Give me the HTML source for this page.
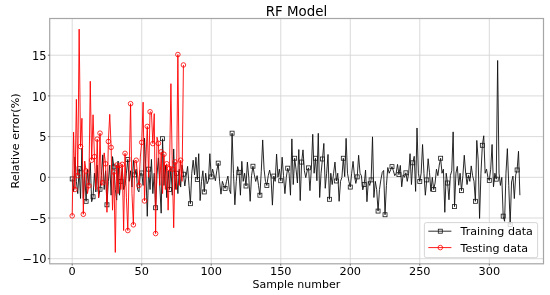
<!DOCTYPE html><html><head><meta charset="utf-8"><style>html,body{margin:0;padding:0;background:#fff;width:550px;height:295px;overflow:hidden}svg{display:block}text{font-family:"DejaVu Sans","Liberation Sans",sans-serif;fill:#000}</style></head><body>
<svg width="550" height="295" viewBox="0 0 550 295">
<rect width="550" height="295" fill="#fff"/>
<path d="M72.20 18.5V263.8M141.72 18.5V263.8M211.23 18.5V263.8M280.75 18.5V263.8M350.27 18.5V263.8M419.78 18.5V263.8M489.30 18.5V263.8M49.7 258.70H543.5M49.7 218.00H543.5M49.7 177.30H543.5M49.7 136.60H543.5M49.7 95.90H543.5M49.7 55.20H543.5" stroke="#d6d6d6" stroke-width="0.9" fill="none"/>
<g clip-path="url(#c)">
<clipPath id="c"><rect x="49.7" y="18.5" width="493.8" height="245.3"/></clipPath>
<polyline points="72.20,178.93 73.59,191.63 74.98,156.95 76.37,181.37 77.76,193.58 79.15,168.75 80.54,198.46 81.93,148.00 83.32,198.46 84.71,173.23 86.10,201.31 87.49,169.16 88.88,185.44 90.27,162.65 91.66,201.72 93.06,196.75 94.45,173.23 95.84,191.95 97.23,165.09 98.62,197.65 100.01,189.27 101.40,175.67 102.79,154.83 104.18,189.51 105.57,170.79 106.96,204.81 108.35,181.37 109.74,165.09 111.13,195.21 112.52,156.62 113.91,166.96 115.30,189.51 116.69,200.09 118.08,161.02 119.47,195.21 120.86,181.37 122.25,167.53 123.64,189.51 125.03,185.44 126.42,173.23 127.81,159.39 129.20,181.37 130.59,170.79 131.98,187.07 133.37,160.21 134.77,174.86 136.16,169.16 137.55,189.51 138.94,191.95 140.33,173.23 141.72,172.99 143.11,185.44 144.50,138.23 145.89,170.79 147.28,216.29 148.67,169.16 150.06,189.51 151.45,159.39 152.84,193.58 154.23,173.23 155.62,207.74 157.01,174.86 158.40,157.85 159.79,185.44 161.18,213.20 162.57,138.72 163.96,185.44 165.35,165.09 166.74,197.65 168.13,170.79 169.52,189.51 170.91,167.53 172.30,195.21 173.69,148.97 175.08,189.51 176.48,173.23 177.87,193.58 179.26,169.16 180.65,187.07 182.04,165.09 183.43,174.21 184.82,186.01 186.21,175.67 187.60,166.39 188.99,185.44 190.38,203.67 191.77,173.23 193.16,160.21 194.55,174.86 195.94,157.19 197.33,179.58 198.72,153.69 200.11,200.58 201.50,181.37 202.89,170.79 204.28,191.95 205.67,173.23 207.06,183.81 208.45,180.72 209.84,153.69 211.23,176.89 212.62,169.16 214.01,174.86 215.40,180.72 216.79,170.79 218.19,163.14 219.58,181.37 220.97,194.15 222.36,181.37 223.75,185.44 225.14,188.37 226.53,181.37 227.92,176.08 229.31,189.51 230.70,193.58 232.09,133.18 233.48,173.23 234.87,204.81 236.26,181.37 237.65,166.64 239.04,172.33 240.43,195.21 241.82,161.35 243.21,181.37 244.60,173.23 245.99,186.01 247.38,162.08 248.77,177.30 250.16,201.31 251.55,175.67 252.94,166.23 254.33,174.86 255.72,181.45 257.11,175.67 258.50,185.44 259.90,195.21 261.29,171.20 262.68,139.94 264.07,169.16 265.46,181.37 266.85,185.44 268.24,175.67 269.63,170.06 271.02,177.30 272.41,205.14 273.80,176.08 275.19,181.37 276.58,154.10 277.97,177.30 279.36,169.16 280.75,180.72 282.14,157.19 283.53,175.67 284.92,193.66 286.31,177.30 287.70,168.18 289.09,173.23 290.48,195.21 291.87,138.88 293.26,184.54 294.65,158.25 296.04,169.16 297.43,183.00 298.82,149.54 300.21,200.58 301.61,162.08 303.00,149.87 304.39,170.79 305.78,177.63 307.17,170.79 308.56,167.86 309.95,190.65 311.34,169.16 312.73,134.32 314.12,173.23 315.51,158.25 316.90,180.72 318.29,133.34 319.68,197.49 321.07,173.23 322.46,158.99 323.85,143.44 325.24,188.29 326.63,173.23 328.02,154.43 329.41,199.28 330.80,173.23 332.19,184.54 333.58,173.23 334.97,162.08 336.36,180.96 337.75,173.23 339.14,201.31 340.53,181.37 341.92,177.30 343.31,158.25 344.71,176.65 346.10,138.39 347.49,173.23 348.88,181.37 350.27,187.07 351.66,173.23 353.05,161.35 354.44,175.67 355.83,183.41 357.22,176.89 358.61,155.24 360.00,173.23 361.39,175.67 362.78,189.84 364.17,184.54 365.56,170.06 366.95,201.72 368.34,181.37 369.73,185.44 371.12,179.90 372.51,136.84 373.90,197.49 375.29,181.37 376.68,189.51 378.07,211.08 379.46,189.51 380.85,179.90 382.24,172.42 383.63,170.46 385.03,214.74 386.42,185.44 387.81,167.53 389.20,173.23 390.59,169.97 391.98,166.64 393.37,170.79 394.76,175.67 396.15,173.23 397.54,164.36 398.93,174.61 400.32,165.42 401.71,186.82 403.10,174.86 404.49,177.30 405.88,172.82 407.27,181.37 408.66,173.23 410.05,153.69 411.44,184.54 412.83,162.81 414.22,156.30 415.61,191.38 417.00,127.97 418.39,173.23 419.78,181.45 421.17,173.23 422.56,144.50 423.95,173.23 425.34,195.21 426.74,179.90 428.13,158.74 429.52,172.74 430.91,191.38 432.30,177.30 433.69,189.51 435.08,183.00 436.47,169.16 437.86,175.67 439.25,165.09 440.64,158.25 442.03,173.23 443.42,169.16 444.81,212.30 446.20,173.23 447.59,183.00 448.98,199.77 450.37,175.67 451.76,170.79 453.15,131.88 454.54,206.60 455.93,173.23 457.32,166.39 458.71,185.28 460.10,173.23 461.49,190.65 462.88,175.67 464.27,155.24 465.66,173.23 467.05,184.54 468.44,175.35 469.84,181.37 471.23,165.90 472.62,175.67 474.01,181.37 475.40,201.31 476.79,140.43 478.18,159.80 479.57,218.41 480.96,173.23 482.35,145.31 483.74,135.79 485.13,173.23 486.52,169.16 487.91,177.30 489.30,180.39 490.69,169.16 492.08,144.50 493.47,186.82 494.86,173.23 496.25,179.17 497.64,60.49 499.03,173.23 500.42,185.44 501.81,177.30 503.20,216.13 504.59,221.26 505.98,173.23 507.37,148.65 508.76,185.44 510.16,224.51 511.55,182.02 512.94,176.08 514.33,198.55 515.72,174.86 517.11,169.97 518.50,151.25 519.89,195.21" fill="none" stroke="#111" stroke-width="0.9" stroke-linejoin="round"/>
<rect x="70.20" y="176.93" width="4" height="4" fill="none" stroke="#1a1a1a" stroke-width="0.8"/>
<rect x="77.15" y="166.75" width="4" height="4" fill="none" stroke="#1a1a1a" stroke-width="0.8"/>
<rect x="84.10" y="199.31" width="4" height="4" fill="none" stroke="#1a1a1a" stroke-width="0.8"/>
<rect x="91.06" y="194.75" width="4" height="4" fill="none" stroke="#1a1a1a" stroke-width="0.8"/>
<rect x="98.01" y="187.27" width="4" height="4" fill="none" stroke="#1a1a1a" stroke-width="0.8"/>
<rect x="104.96" y="202.81" width="4" height="4" fill="none" stroke="#1a1a1a" stroke-width="0.8"/>
<rect x="111.91" y="164.96" width="4" height="4" fill="none" stroke="#1a1a1a" stroke-width="0.8"/>
<rect x="118.86" y="179.37" width="4" height="4" fill="none" stroke="#1a1a1a" stroke-width="0.8"/>
<rect x="125.81" y="157.39" width="4" height="4" fill="none" stroke="#1a1a1a" stroke-width="0.8"/>
<rect x="132.77" y="172.86" width="4" height="4" fill="none" stroke="#1a1a1a" stroke-width="0.8"/>
<rect x="139.72" y="170.99" width="4" height="4" fill="none" stroke="#1a1a1a" stroke-width="0.8"/>
<rect x="146.67" y="167.16" width="4" height="4" fill="none" stroke="#1a1a1a" stroke-width="0.8"/>
<rect x="153.62" y="205.74" width="4" height="4" fill="none" stroke="#1a1a1a" stroke-width="0.8"/>
<rect x="160.57" y="136.72" width="4" height="4" fill="none" stroke="#1a1a1a" stroke-width="0.8"/>
<rect x="167.52" y="187.51" width="4" height="4" fill="none" stroke="#1a1a1a" stroke-width="0.8"/>
<rect x="174.48" y="171.23" width="4" height="4" fill="none" stroke="#1a1a1a" stroke-width="0.8"/>
<rect x="181.43" y="172.21" width="4" height="4" fill="none" stroke="#1a1a1a" stroke-width="0.8"/>
<rect x="188.38" y="201.67" width="4" height="4" fill="none" stroke="#1a1a1a" stroke-width="0.8"/>
<rect x="195.33" y="177.58" width="4" height="4" fill="none" stroke="#1a1a1a" stroke-width="0.8"/>
<rect x="202.28" y="189.95" width="4" height="4" fill="none" stroke="#1a1a1a" stroke-width="0.8"/>
<rect x="209.23" y="174.89" width="4" height="4" fill="none" stroke="#1a1a1a" stroke-width="0.8"/>
<rect x="216.19" y="161.14" width="4" height="4" fill="none" stroke="#1a1a1a" stroke-width="0.8"/>
<rect x="223.14" y="186.37" width="4" height="4" fill="none" stroke="#1a1a1a" stroke-width="0.8"/>
<rect x="230.09" y="131.18" width="4" height="4" fill="none" stroke="#1a1a1a" stroke-width="0.8"/>
<rect x="237.04" y="170.33" width="4" height="4" fill="none" stroke="#1a1a1a" stroke-width="0.8"/>
<rect x="243.99" y="184.01" width="4" height="4" fill="none" stroke="#1a1a1a" stroke-width="0.8"/>
<rect x="250.94" y="164.23" width="4" height="4" fill="none" stroke="#1a1a1a" stroke-width="0.8"/>
<rect x="257.90" y="193.21" width="4" height="4" fill="none" stroke="#1a1a1a" stroke-width="0.8"/>
<rect x="264.85" y="183.44" width="4" height="4" fill="none" stroke="#1a1a1a" stroke-width="0.8"/>
<rect x="271.80" y="174.08" width="4" height="4" fill="none" stroke="#1a1a1a" stroke-width="0.8"/>
<rect x="278.75" y="178.72" width="4" height="4" fill="none" stroke="#1a1a1a" stroke-width="0.8"/>
<rect x="285.70" y="166.18" width="4" height="4" fill="none" stroke="#1a1a1a" stroke-width="0.8"/>
<rect x="292.65" y="156.25" width="4" height="4" fill="none" stroke="#1a1a1a" stroke-width="0.8"/>
<rect x="299.61" y="160.08" width="4" height="4" fill="none" stroke="#1a1a1a" stroke-width="0.8"/>
<rect x="306.56" y="165.86" width="4" height="4" fill="none" stroke="#1a1a1a" stroke-width="0.8"/>
<rect x="313.51" y="156.25" width="4" height="4" fill="none" stroke="#1a1a1a" stroke-width="0.8"/>
<rect x="320.46" y="156.99" width="4" height="4" fill="none" stroke="#1a1a1a" stroke-width="0.8"/>
<rect x="327.41" y="197.28" width="4" height="4" fill="none" stroke="#1a1a1a" stroke-width="0.8"/>
<rect x="334.36" y="178.96" width="4" height="4" fill="none" stroke="#1a1a1a" stroke-width="0.8"/>
<rect x="341.31" y="156.25" width="4" height="4" fill="none" stroke="#1a1a1a" stroke-width="0.8"/>
<rect x="348.27" y="185.07" width="4" height="4" fill="none" stroke="#1a1a1a" stroke-width="0.8"/>
<rect x="355.22" y="174.89" width="4" height="4" fill="none" stroke="#1a1a1a" stroke-width="0.8"/>
<rect x="362.17" y="182.54" width="4" height="4" fill="none" stroke="#1a1a1a" stroke-width="0.8"/>
<rect x="369.12" y="177.90" width="4" height="4" fill="none" stroke="#1a1a1a" stroke-width="0.8"/>
<rect x="376.07" y="209.08" width="4" height="4" fill="none" stroke="#1a1a1a" stroke-width="0.8"/>
<rect x="383.03" y="212.74" width="4" height="4" fill="none" stroke="#1a1a1a" stroke-width="0.8"/>
<rect x="389.98" y="164.64" width="4" height="4" fill="none" stroke="#1a1a1a" stroke-width="0.8"/>
<rect x="396.93" y="172.61" width="4" height="4" fill="none" stroke="#1a1a1a" stroke-width="0.8"/>
<rect x="403.88" y="170.82" width="4" height="4" fill="none" stroke="#1a1a1a" stroke-width="0.8"/>
<rect x="410.83" y="160.81" width="4" height="4" fill="none" stroke="#1a1a1a" stroke-width="0.8"/>
<rect x="417.78" y="179.45" width="4" height="4" fill="none" stroke="#1a1a1a" stroke-width="0.8"/>
<rect x="424.74" y="177.90" width="4" height="4" fill="none" stroke="#1a1a1a" stroke-width="0.8"/>
<rect x="431.69" y="187.51" width="4" height="4" fill="none" stroke="#1a1a1a" stroke-width="0.8"/>
<rect x="438.64" y="156.25" width="4" height="4" fill="none" stroke="#1a1a1a" stroke-width="0.8"/>
<rect x="445.59" y="181.00" width="4" height="4" fill="none" stroke="#1a1a1a" stroke-width="0.8"/>
<rect x="452.54" y="204.60" width="4" height="4" fill="none" stroke="#1a1a1a" stroke-width="0.8"/>
<rect x="459.49" y="188.65" width="4" height="4" fill="none" stroke="#1a1a1a" stroke-width="0.8"/>
<rect x="466.44" y="173.35" width="4" height="4" fill="none" stroke="#1a1a1a" stroke-width="0.8"/>
<rect x="473.40" y="199.31" width="4" height="4" fill="none" stroke="#1a1a1a" stroke-width="0.8"/>
<rect x="480.35" y="143.31" width="4" height="4" fill="none" stroke="#1a1a1a" stroke-width="0.8"/>
<rect x="487.30" y="178.39" width="4" height="4" fill="none" stroke="#1a1a1a" stroke-width="0.8"/>
<rect x="494.25" y="177.17" width="4" height="4" fill="none" stroke="#1a1a1a" stroke-width="0.8"/>
<rect x="501.20" y="214.13" width="4" height="4" fill="none" stroke="#1a1a1a" stroke-width="0.8"/>
<rect x="508.16" y="222.51" width="4" height="4" fill="none" stroke="#1a1a1a" stroke-width="0.8"/>
<rect x="515.11" y="167.97" width="4" height="4" fill="none" stroke="#1a1a1a" stroke-width="0.8"/>
<polyline points="72.20,215.88 73.59,132.12 74.98,189.51 76.37,99.32 77.76,175.59 79.15,29.15 80.54,146.53 81.93,118.29 83.32,214.26 84.71,161.02 86.10,170.95 87.49,193.58 88.88,185.68 90.27,81.25 91.66,160.21 93.06,114.78 94.45,156.62 95.84,189.51 97.23,139.12 98.62,197.65 100.01,133.18 101.40,185.44 102.79,182.67 104.18,152.88 105.57,163.79 106.96,212.30 108.35,141.48 109.74,114.30 111.13,147.43 112.52,210.19 113.91,172.01 115.30,252.43 116.69,165.09 118.08,193.58 119.47,165.50 120.86,189.51 122.25,164.36 123.64,230.54 125.03,153.37 126.42,197.65 127.81,230.54 129.20,169.16 130.59,103.71 131.98,193.58 133.37,224.84 134.77,161.02 136.16,160.21 137.55,174.86 138.94,185.44 140.33,156.95 141.72,142.38 143.11,102.17 144.50,200.91 145.89,161.02 147.28,126.43 148.67,177.30 150.06,111.77 151.45,112.59 152.84,143.60 154.23,113.65 155.62,233.55 157.01,137.17 158.40,143.36 159.79,185.44 161.18,151.90 162.57,193.58 163.96,154.26 165.35,189.51 166.74,163.79 168.13,210.19 169.52,168.51 170.91,83.69 172.30,169.16 173.69,227.77 175.08,162.00 176.48,189.51 177.87,54.55 179.26,185.44 180.65,160.21 182.04,181.37 183.43,64.97" fill="none" stroke="#ff0000" stroke-width="0.9" stroke-linejoin="round"/>
<circle cx="72.20" cy="215.88" r="2.3" fill="none" stroke="#ff0000" stroke-width="0.8"/>
<circle cx="74.98" cy="189.51" r="2.3" fill="none" stroke="#ff0000" stroke-width="0.8"/>
<circle cx="77.76" cy="175.59" r="2.3" fill="none" stroke="#ff0000" stroke-width="0.8"/>
<circle cx="80.54" cy="146.53" r="2.3" fill="none" stroke="#ff0000" stroke-width="0.8"/>
<circle cx="83.32" cy="214.26" r="2.3" fill="none" stroke="#ff0000" stroke-width="0.8"/>
<circle cx="86.10" cy="170.95" r="2.3" fill="none" stroke="#ff0000" stroke-width="0.8"/>
<circle cx="88.88" cy="185.68" r="2.3" fill="none" stroke="#ff0000" stroke-width="0.8"/>
<circle cx="91.66" cy="160.21" r="2.3" fill="none" stroke="#ff0000" stroke-width="0.8"/>
<circle cx="94.45" cy="156.62" r="2.3" fill="none" stroke="#ff0000" stroke-width="0.8"/>
<circle cx="97.23" cy="139.12" r="2.3" fill="none" stroke="#ff0000" stroke-width="0.8"/>
<circle cx="100.01" cy="133.18" r="2.3" fill="none" stroke="#ff0000" stroke-width="0.8"/>
<circle cx="102.79" cy="182.67" r="2.3" fill="none" stroke="#ff0000" stroke-width="0.8"/>
<circle cx="105.57" cy="163.79" r="2.3" fill="none" stroke="#ff0000" stroke-width="0.8"/>
<circle cx="108.35" cy="141.48" r="2.3" fill="none" stroke="#ff0000" stroke-width="0.8"/>
<circle cx="111.13" cy="147.43" r="2.3" fill="none" stroke="#ff0000" stroke-width="0.8"/>
<circle cx="113.91" cy="172.01" r="2.3" fill="none" stroke="#ff0000" stroke-width="0.8"/>
<circle cx="116.69" cy="165.09" r="2.3" fill="none" stroke="#ff0000" stroke-width="0.8"/>
<circle cx="119.47" cy="165.50" r="2.3" fill="none" stroke="#ff0000" stroke-width="0.8"/>
<circle cx="122.25" cy="164.36" r="2.3" fill="none" stroke="#ff0000" stroke-width="0.8"/>
<circle cx="125.03" cy="153.37" r="2.3" fill="none" stroke="#ff0000" stroke-width="0.8"/>
<circle cx="127.81" cy="230.54" r="2.3" fill="none" stroke="#ff0000" stroke-width="0.8"/>
<circle cx="130.59" cy="103.71" r="2.3" fill="none" stroke="#ff0000" stroke-width="0.8"/>
<circle cx="133.37" cy="224.84" r="2.3" fill="none" stroke="#ff0000" stroke-width="0.8"/>
<circle cx="136.16" cy="160.21" r="2.3" fill="none" stroke="#ff0000" stroke-width="0.8"/>
<circle cx="138.94" cy="185.44" r="2.3" fill="none" stroke="#ff0000" stroke-width="0.8"/>
<circle cx="141.72" cy="142.38" r="2.3" fill="none" stroke="#ff0000" stroke-width="0.8"/>
<circle cx="144.50" cy="200.91" r="2.3" fill="none" stroke="#ff0000" stroke-width="0.8"/>
<circle cx="147.28" cy="126.43" r="2.3" fill="none" stroke="#ff0000" stroke-width="0.8"/>
<circle cx="150.06" cy="111.77" r="2.3" fill="none" stroke="#ff0000" stroke-width="0.8"/>
<circle cx="152.84" cy="143.60" r="2.3" fill="none" stroke="#ff0000" stroke-width="0.8"/>
<circle cx="155.62" cy="233.55" r="2.3" fill="none" stroke="#ff0000" stroke-width="0.8"/>
<circle cx="158.40" cy="143.36" r="2.3" fill="none" stroke="#ff0000" stroke-width="0.8"/>
<circle cx="161.18" cy="151.90" r="2.3" fill="none" stroke="#ff0000" stroke-width="0.8"/>
<circle cx="163.96" cy="154.26" r="2.3" fill="none" stroke="#ff0000" stroke-width="0.8"/>
<circle cx="166.74" cy="163.79" r="2.3" fill="none" stroke="#ff0000" stroke-width="0.8"/>
<circle cx="169.52" cy="168.51" r="2.3" fill="none" stroke="#ff0000" stroke-width="0.8"/>
<circle cx="172.30" cy="169.16" r="2.3" fill="none" stroke="#ff0000" stroke-width="0.8"/>
<circle cx="175.08" cy="162.00" r="2.3" fill="none" stroke="#ff0000" stroke-width="0.8"/>
<circle cx="177.87" cy="54.55" r="2.3" fill="none" stroke="#ff0000" stroke-width="0.8"/>
<circle cx="180.65" cy="160.21" r="2.3" fill="none" stroke="#ff0000" stroke-width="0.8"/>
<circle cx="183.43" cy="64.97" r="2.3" fill="none" stroke="#ff0000" stroke-width="0.8"/>
</g>
<rect x="49.7" y="18.5" width="493.80" height="245.30" fill="none" stroke="#a6a6a6" stroke-width="1.2"/>
<path d="M72.20 263.8v1.8M141.72 263.8v1.8M211.23 263.8v1.8M280.75 263.8v1.8M350.27 263.8v1.8M419.78 263.8v1.8M489.30 263.8v1.8M49.7 258.70h-1.8M49.7 218.00h-1.8M49.7 177.30h-1.8M49.7 136.60h-1.8M49.7 95.90h-1.8M49.7 55.20h-1.8" stroke="#555" stroke-width="0.8"/>
<text x="72.20" y="275.3" font-size="11.3" text-anchor="middle">0</text>
<text x="141.72" y="275.3" font-size="11.3" text-anchor="middle">50</text>
<text x="211.23" y="275.3" font-size="11.3" text-anchor="middle">100</text>
<text x="280.75" y="275.3" font-size="11.3" text-anchor="middle">150</text>
<text x="350.27" y="275.3" font-size="11.3" text-anchor="middle">200</text>
<text x="419.78" y="275.3" font-size="11.3" text-anchor="middle">250</text>
<text x="489.30" y="275.3" font-size="11.3" text-anchor="middle">300</text>
<text x="46.5" y="263.40" font-size="11.4" text-anchor="end">−10</text>
<text x="46.5" y="222.70" font-size="11.4" text-anchor="end">−5</text>
<text x="46.5" y="182.00" font-size="11.4" text-anchor="end">0</text>
<text x="46.5" y="141.30" font-size="11.4" text-anchor="end">5</text>
<text x="46.5" y="100.60" font-size="11.4" text-anchor="end">10</text>
<text x="46.5" y="59.90" font-size="11.4" text-anchor="end">15</text>
<text x="296.4" y="15.5" font-size="13.4" text-anchor="middle">RF Model</text>
<text x="296.4" y="288" font-size="11.0" text-anchor="middle">Sample number</text>
<text transform="translate(18.9 140.9) rotate(-90)" font-size="11.2" text-anchor="middle">Relative error(%)</text>
<rect x="424.4" y="222.6" width="113.2" height="35.1" rx="2" fill="#fff" fill-opacity="0.8" stroke="#d0d0d0" stroke-width="0.9"/>
<path d="M428.3 231.2H451.4" stroke="#1a1a1a" stroke-width="0.9"/>
<rect x="438.3" y="229.2" width="4" height="4" fill="none" stroke="#1a1a1a" stroke-width="0.8"/>
<path d="M428.3 247.6H451.4" stroke="#ff0000" stroke-width="0.9"/>
<circle cx="440.3" cy="247.6" r="2.3" fill="none" stroke="#ff0000" stroke-width="0.8"/>
<text x="460.6" y="235.4" font-size="11.1">Training data</text>
<text x="460.6" y="251.9" font-size="11.1">Testing data</text>
</svg></body></html>
